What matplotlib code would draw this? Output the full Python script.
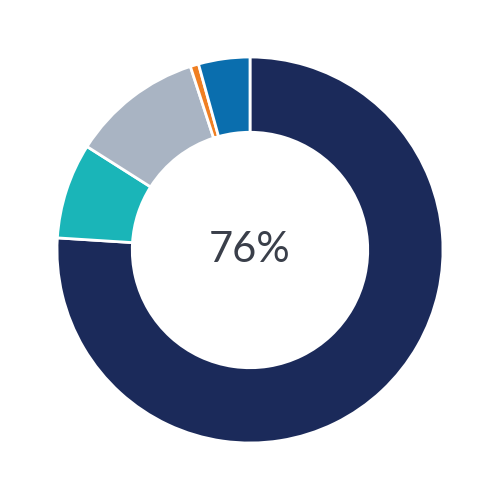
import matplotlib
matplotlib.use("Agg")
import matplotlib.pyplot as plt

labels = ["A", "B", "C", "D", "E"]
values = [76, 8, 11, 0.7, 4.3]
colors = ["#1b2a5a", "#1ab5b8", "#a9b4c3", "#f07f22", "#0a6eae"]
center_text = "76%"

fig = plt.figure(figsize=(5, 5), dpi=100)
ax = fig.add_axes([0, 0, 1, 1])
ax.pie(values, colors=colors, startangle=90, counterclock=False,
       radius=1, wedgeprops=dict(width=0.39, edgecolor="white", linewidth=2))
ax.text(0, 0, center_text, ha="center", va="center", fontsize=30,
        color="#3a3f4a", family="Lato")
lim = 250 / 193
ax.set_xlim(-lim, lim)
ax.set_ylim(-lim, lim)
ax.set_aspect("equal")
ax.axis("off")
fig.savefig("out.png", dpi=100)
